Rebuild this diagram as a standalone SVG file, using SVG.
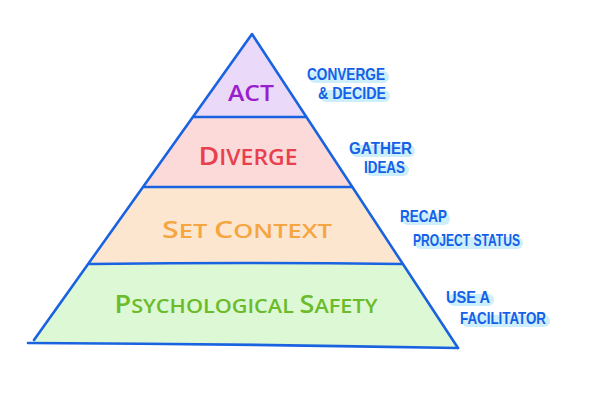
<svg xmlns="http://www.w3.org/2000/svg" width="600" height="400" viewBox="0 0 600 400">
<style>
.edge{fill:none;stroke:#1a63e0;stroke-width:2.6;stroke-linecap:round;stroke-linejoin:round}
.lbl{font-family:"Open Sans","DejaVu Sans",sans-serif;font-weight:600;text-anchor:middle}
.side{font-family:"Liberation Sans",Arial,sans-serif;font-weight:700;fill:#1560e8;font-size:16.5px}
.hl{fill:#cdeefb}
</style>
<rect width="600" height="400" fill="#ffffff"/>
<g id="layer-act">
<polygon points="252,34 306,117 194,117" fill="#ead9f9"/>
<text class="lbl" x="251" y="101" font-size="22" fill="#9a1fcc" textLength="46" lengthAdjust="spacingAndGlyphs">ACT</text>
</g>
<g id="layer-diverge">
<polygon points="194,117 306,117 352,187 144,187" fill="#fcdada"/>
<text class="lbl" x="248" y="165" font-size="21" fill="#e8404e" textLength="99" lengthAdjust="spacingAndGlyphs"><tspan font-size="26">D</tspan>IVERGE</text>
</g>
<g id="layer-context">
<polygon points="144,187 352,187 402,264 90,264" fill="#fde6cf"/>
<text class="lbl" x="247" y="238" font-size="20" fill="#f5a643" textLength="170" lengthAdjust="spacingAndGlyphs"><tspan font-size="24">S</tspan>ET <tspan font-size="24">C</tspan>ONTEXT</text>
</g>
<g id="layer-safety">
<polygon points="90,264 402,264 458,348 32,343" fill="#ddf8d5"/>
<text class="lbl" x="246" y="313" font-size="20" fill="#6cbb2a" textLength="263" lengthAdjust="spacingAndGlyphs"><tspan font-size="25">P</tspan>SYCHOLOGICAL <tspan font-size="25">S</tspan>AFETY</text>
</g>
<g id="connectors">
<path class="edge" d="M34,340 L252,34 L458,348"/>
<path class="edge" d="M194,117 L306,117"/>
<path class="edge" d="M144,187 L352,187"/>
<path class="edge" d="M90,264 Q250,262 402,264"/>
<path class="edge" d="M28,343 Q240,344 458,348"/>
</g>
<g id="note-act">
<rect class="hl" x="309" y="71" width="80" height="12" rx="6"/>
<rect class="hl" x="320" y="90" width="70" height="12" rx="6"/>
<text class="side" x="307" y="80" textLength="78" lengthAdjust="spacingAndGlyphs">CONVERGE</text>
<text class="side" x="318" y="99" textLength="68" lengthAdjust="spacingAndGlyphs">&amp; DECIDE</text>
</g>
<g id="note-diverge">
<rect class="hl" x="351" y="145" width="64" height="12" rx="6"/>
<rect class="hl" x="366" y="164" width="43" height="12" rx="6"/>
<text class="side" x="349" y="154" textLength="63" lengthAdjust="spacingAndGlyphs">GATHER</text>
<text class="side" x="364" y="173" textLength="41" lengthAdjust="spacingAndGlyphs">IDEAS</text>
</g>
<g id="note-context">
<rect class="hl" x="402" y="213" width="48" height="12" rx="6"/>
<rect class="hl" x="415" y="237" width="108" height="12" rx="6"/>
<text class="side" x="400" y="222" textLength="47" lengthAdjust="spacingAndGlyphs">RECAP</text>
<text class="side" x="413" y="246" textLength="107" lengthAdjust="spacingAndGlyphs">PROJECT STATUS</text>
</g>
<g id="note-safety">
<rect class="hl" x="448" y="294" width="46" height="12" rx="6"/>
<rect class="hl" x="462" y="315" width="88" height="12" rx="6"/>
<text class="side" x="446" y="303" textLength="44" lengthAdjust="spacingAndGlyphs">USE A</text>
<text class="side" x="460" y="324" textLength="86" lengthAdjust="spacingAndGlyphs">FACILITATOR</text>
</g>
</svg>
